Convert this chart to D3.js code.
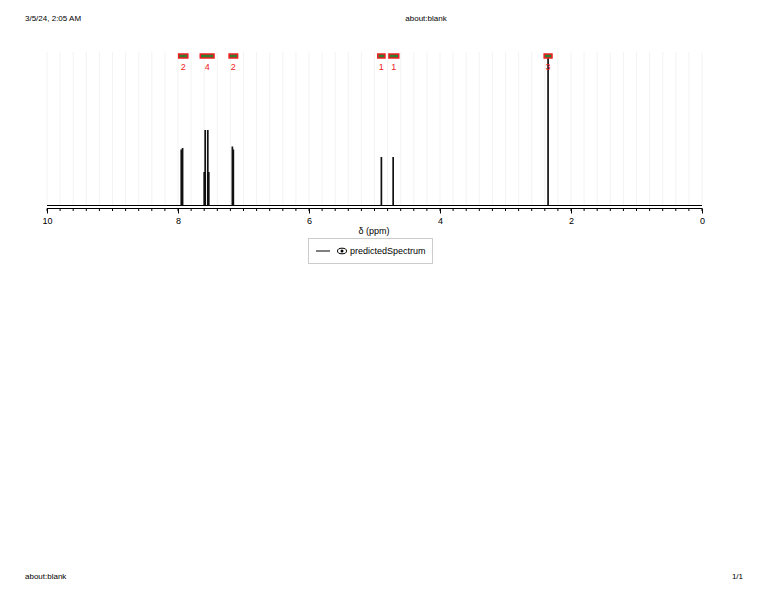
<!DOCTYPE html><html><head><meta charset="utf-8"><script src="https://cdn.jsdelivr.net/npm/d3@7"></script>
<style>body{margin:0;font-family:Arial,"Liberation Sans",sans-serif}text{font-family:Arial,"Liberation Sans",sans-serif}</style></head><body><svg id="c" width="768" height="594"></svg><script>
const peakPpm=[7.95,7.93,7.60,7.585,7.545,7.53,7.17,7.155,4.895,4.715,2.35];
const peakHeight=[0.37,0.38,0.22,0.5,0.5,0.22,0.39,0.37,0.32,0.32,1.0];
const integralFrom=[7.99,7.66,7.22,4.95,4.78,2.41];
const integralTo=[7.85,7.45,7.09,4.84,4.63,2.29];
const integralLabels=["2","4","2","1","1","3"];
const majorTicks=[10,8,6,4,2,0];
const svg=d3.select("#c");
svg.append("text").attr("x",25).attr("y",21).attr("font-size",8).text("3/5/24, 2:05 AM");
svg.append("text").attr("x",426).attr("y",21).attr("font-size",8).attr("text-anchor","middle").text("about:blank");
svg.append("text").attr("x",25).attr("y",579).attr("font-size",8).text("about:blank");
svg.append("text").attr("x",743).attr("y",579).attr("font-size",8).attr("text-anchor","end").text("1/1");
const x=d3.scaleLinear().domain([10,0]).range([47,702]);
const y=d3.scaleLinear().domain([0,1]).range([205,55]);
const minor=d3.range(0,50.5).map(i=>i*0.2);
svg.append("g").selectAll("line").data(minor).join("line").attr("x1",d=>x(d)).attr("x2",d=>x(d)).attr("y1",52).attr("y2",205).attr("stroke","#eee").attr("stroke-width",0.7);
svg.append("line").attr("x1",47).attr("x2",702).attr("y1",205.5).attr("y2",205.5).attr("stroke","#000").attr("stroke-width",1);
svg.append("line").attr("x1",47).attr("x2",702).attr("y1",208.5).attr("y2",208.5).attr("stroke","#000").attr("stroke-width",1);
const ax=svg.append("g").attr("transform","translate(0,208.5)").call(d3.axisBottom(x).tickValues(majorTicks).tickSize(5).tickFormat(d3.format("d")));
ax.select(".domain").remove();ax.selectAll("text").attr("font-size",9).attr("dy","0.85em");
svg.append("g").selectAll("line").data(minor).join("line").attr("x1",d=>x(d)).attr("x2",d=>x(d)).attr("y1",208.5).attr("y2",211).attr("stroke","#000");
svg.append("text").attr("x",374).attr("y",234).attr("font-size",9).attr("text-anchor","middle").text("δ (ppm)");
svg.append("g").selectAll("line").data(peakPpm).join("line").attr("x1",d=>x(d)).attr("x2",d=>x(d)).attr("y1",205).attr("y2",(d,i)=>y(peakHeight[i])).attr("stroke","#111").attr("stroke-width",1.7);
const ig=svg.append("g");
integralFrom.forEach((f,i)=>{const a=x(f),b=x(integralTo[i]);
ig.append("rect").attr("x",a).attr("y",54).attr("width",b-a).attr("height",4).attr("fill","#2e7d32").attr("stroke","#f02020").attr("stroke-width",1.5);
ig.append("text").attr("x",(a+b)/2).attr("y",70).attr("font-size",9).attr("fill","#f02020").attr("text-anchor","middle").text(integralLabels[i]);});
svg.append("rect").attr("x",308.5).attr("y",238.5).attr("width",124).attr("height",25).attr("fill","#fff").attr("stroke","#ccc");
svg.append("line").attr("x1",316).attr("x2",330).attr("y1",251).attr("y2",251).attr("stroke","#000");
svg.append("ellipse").attr("cx",342).attr("cy",251).attr("rx",4.5).attr("ry",2.8).attr("fill","none").attr("stroke","#000");
svg.append("circle").attr("cx",342).attr("cy",251).attr("r",1.5);
svg.append("text").attr("x",350).attr("y",254).attr("font-size",9).text("predictedSpectrum");
</script></body></html>
